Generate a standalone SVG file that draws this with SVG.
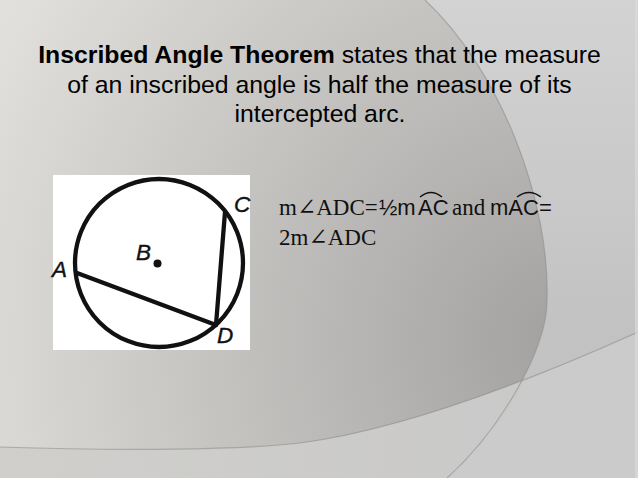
<svg xmlns="http://www.w3.org/2000/svg" width="638" height="478" viewBox="0 0 638 478">
<defs>
<radialGradient id="bg" gradientUnits="userSpaceOnUse" cx="560" cy="340" r="640">
<stop offset="0" stop-color="#a2a1a0"/>
<stop offset="1" stop-color="#e2e0dc"/>
</radialGradient>
<linearGradient id="rightg" x1="0" y1="0" x2="0" y2="1">
<stop offset="0" stop-color="#d3d3d3"/>
<stop offset="0.7" stop-color="#c2c2c2"/>
<stop offset="1" stop-color="#c6c6c6"/>
</linearGradient>
<linearGradient id="botg" x1="0" y1="0" x2="1" y2="0">
<stop offset="0" stop-color="#d0cfcc"/>
<stop offset="1" stop-color="#c8c8c8"/>
</linearGradient>
<style>
.title{font-family:"Liberation Sans",Arial,sans-serif;font-size:24.8px;fill:#000}
.lbl{font-family:"Liberation Sans",Arial,sans-serif;font-style:italic;font-size:22.5px;fill:#111;stroke:#111;stroke-width:0.4}
.ser{font-family:"Liberation Serif","DejaVu Serif",serif;font-size:23px;fill:#111}
.san{font-family:"Liberation Sans","DejaVu Sans",sans-serif;font-size:22px;fill:#111}
.fig{fill:none;stroke:#111;stroke-width:4.3;stroke-linecap:round}
.edge{fill:none;stroke:#8e8e8e;stroke-opacity:0.6;stroke-width:1.2}
</style>
</defs>
<g id="background">
<rect x="0" y="0" width="638" height="478" fill="url(#bg)"/>
<path d="M425,0 C500,70 550,200 547,300 C547,350 500,430 447,478 L638,478 L638,0 Z" fill="url(#rightg)"/>
<path d="M0,447 C120,451 240,450 300,443 C400,430 520,385 638,332 L638,478 L0,478 Z" fill="url(#botg)"/>
<path d="M527,380 C510,410 480,450 447,478 L638,478 L638,332 C600,349 560,365 527,380 Z" fill="#cbcbcb"/>
<path class="edge" d="M425,0 C500,70 550,200 547,300 C547,350 500,430 447,478"/>
<path class="edge" d="M0,447 C120,451 240,450 300,443 C400,430 520,385 638,332" stroke-width="1.6"/>
<rect x="635" y="0" width="3" height="478" fill="#dadada" opacity="0.7"/>
</g>
<g id="title">
<text class="title" x="319.5" y="63" text-anchor="middle"><tspan font-weight="bold">Inscribed Angle Theorem</tspan> states that the measure</text>
<text class="title" x="319.5" y="92.5" text-anchor="middle">of an inscribed angle is half the measure of its</text>
<text class="title" x="320" y="121.5" text-anchor="middle">intercepted arc.</text>
</g>
<g id="figure">
<rect x="53" y="175" width="197" height="175" fill="#ffffff"/>
<circle class="fig" cx="159" cy="263" r="84"/>
<line class="fig" x1="77" y1="273" x2="216" y2="325"/>
<line class="fig" x1="225" y1="212" x2="216" y2="325"/>
<circle cx="157.5" cy="263.5" r="4" fill="#111"/>
<text class="lbl" x="52" y="277">A</text>
<text class="lbl" x="136" y="260">B</text>
<text class="lbl" x="234" y="212">C</text>
<text class="lbl" x="217" y="343">D</text>
</g>
<g id="formula">
<text y="215"><tspan class="ser" x="279">m∠ADC=</tspan><tspan class="san" x="379">½m</tspan><tspan class="san" x="418">AC</tspan><tspan class="ser" x="452">and</tspan><tspan class="san" x="490">mAC=</tspan></text>
<path d="M420,197 Q431,188 442,197" fill="none" stroke="#111" stroke-width="1.5"/>
<path d="M517,197 Q529,188 541,197" fill="none" stroke="#111" stroke-width="1.5"/>
<text class="ser" x="279" y="245">2m∠ADC</text>
</g>
</svg>
